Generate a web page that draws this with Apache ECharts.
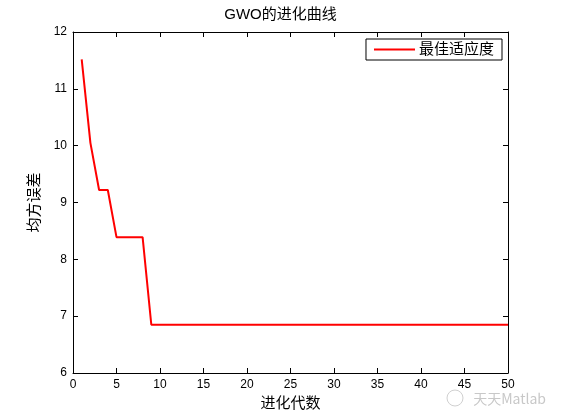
<!DOCTYPE html>
<html>
<head>
<meta charset="utf-8">
<script src="https://cdn.jsdelivr.net/npm/echarts@6/dist/echarts.min.js"></script>
<style>html,body{margin:0;padding:0;background:#fff;}#c{width:561px;height:420px;}</style>
</head>
<body>
<div id="c"></div>
<script>
var generations = [];
for (var i = 1; i <= 50; i++) generations.push(i);
var fitness = [11.52, 10.05, 9.22, 9.22, 8.39, 8.39, 8.39, 8.39, 6.85, 6.85,
  6.85, 6.85, 6.85, 6.85, 6.85, 6.85, 6.85, 6.85, 6.85, 6.85,
  6.85, 6.85, 6.85, 6.85, 6.85, 6.85, 6.85, 6.85, 6.85, 6.85,
  6.85, 6.85, 6.85, 6.85, 6.85, 6.85, 6.85, 6.85, 6.85, 6.85,
  6.85, 6.85, 6.85, 6.85, 6.85, 6.85, 6.85, 6.85, 6.85, 6.85];
var titleText = 'GWO的进化曲线';
var xName = '进化代数';
var yName = '均方误差';
var seriesName = '最佳适应度';

var FONT = '"Liberation Sans", "Noto Sans CJK SC", sans-serif';
var pts = generations.map(function (g, i) { return [g, fitness[i]]; });
var chart = echarts.init(document.getElementById('c'));
var axisCommon = {
  axisLine: { show: true, onZero: false, lineStyle: { color: '#000', width: 1 } },
  axisTick: { show: true, inside: true, length: 5, lineStyle: { color: '#000' } },
  splitLine: { show: false }
};
chart.setOption({
  animation: false,
  backgroundColor: '#fff',
  title: {
    text: titleText, left: 'center', top: 7, padding: 0,
    textStyle: { fontFamily: FONT, fontSize: 15, fontWeight: 'normal', color: '#000' }
  },
  legend: {
    right: 59, top: 39, orient: 'vertical',
    backgroundColor: '#fff', borderColor: '#000', borderWidth: 1,
    padding: [3, 8, 3, 8], itemWidth: 41, itemHeight: 2, itemGap: 4,
    icon: 'rect',
    textStyle: { fontFamily: FONT, fontSize: 15, color: '#000', padding: [0, 0, 0, -1] },
    data: [seriesName]
  },
  grid: { left: 73, right: 53, top: 32, bottom: 47, containLabel: false },
  xAxis: [
    Object.assign({
      type: 'value', min: 0, max: 50, interval: 5, position: 'bottom',
      name: xName, nameLocation: 'middle', nameGap: 22,
      nameTextStyle: { fontFamily: FONT, fontSize: 15, color: '#000' },
      axisLabel: { fontFamily: FONT, fontSize: 12, color: '#000', margin: 6 }
    }, axisCommon),
    Object.assign({
      type: 'value', min: 0, max: 50, interval: 5, position: 'top',
      axisLabel: { show: false }
    }, axisCommon)
  ],
  yAxis: [
    Object.assign({
      type: 'value', min: 6, max: 12, interval: 1, position: 'left',
      name: yName, nameLocation: 'middle', nameGap: 27,
      nameTextStyle: { fontFamily: FONT, fontSize: 15, color: '#000' },
      axisLabel: { fontFamily: FONT, fontSize: 12, color: '#000', margin: 6 }
    }, axisCommon),
    Object.assign({
      type: 'value', min: 6, max: 12, interval: 1, position: 'right',
      axisLabel: { show: false }
    }, axisCommon)
  ],
  series: [{
    name: seriesName, type: 'line', data: pts, showSymbol: false, symbol: 'none',
    lineStyle: { color: '#ff0000', width: 2 }, itemStyle: { color: '#ff0000' }
  }],
  graphic: [{
    type: 'text', right: 15, bottom: 14,
    style: { text: '天天Matlab', fill: '#c8c8c8', font: '14px "Noto Sans CJK SC", sans-serif' }
  }, {
    type: 'circle', shape: { cx: 455, cy: 398, r: 8 },
    style: { fill: 'none', stroke: '#d0d0d0', lineWidth: 1 }
  }]
});
</script>
</body>
</html>
